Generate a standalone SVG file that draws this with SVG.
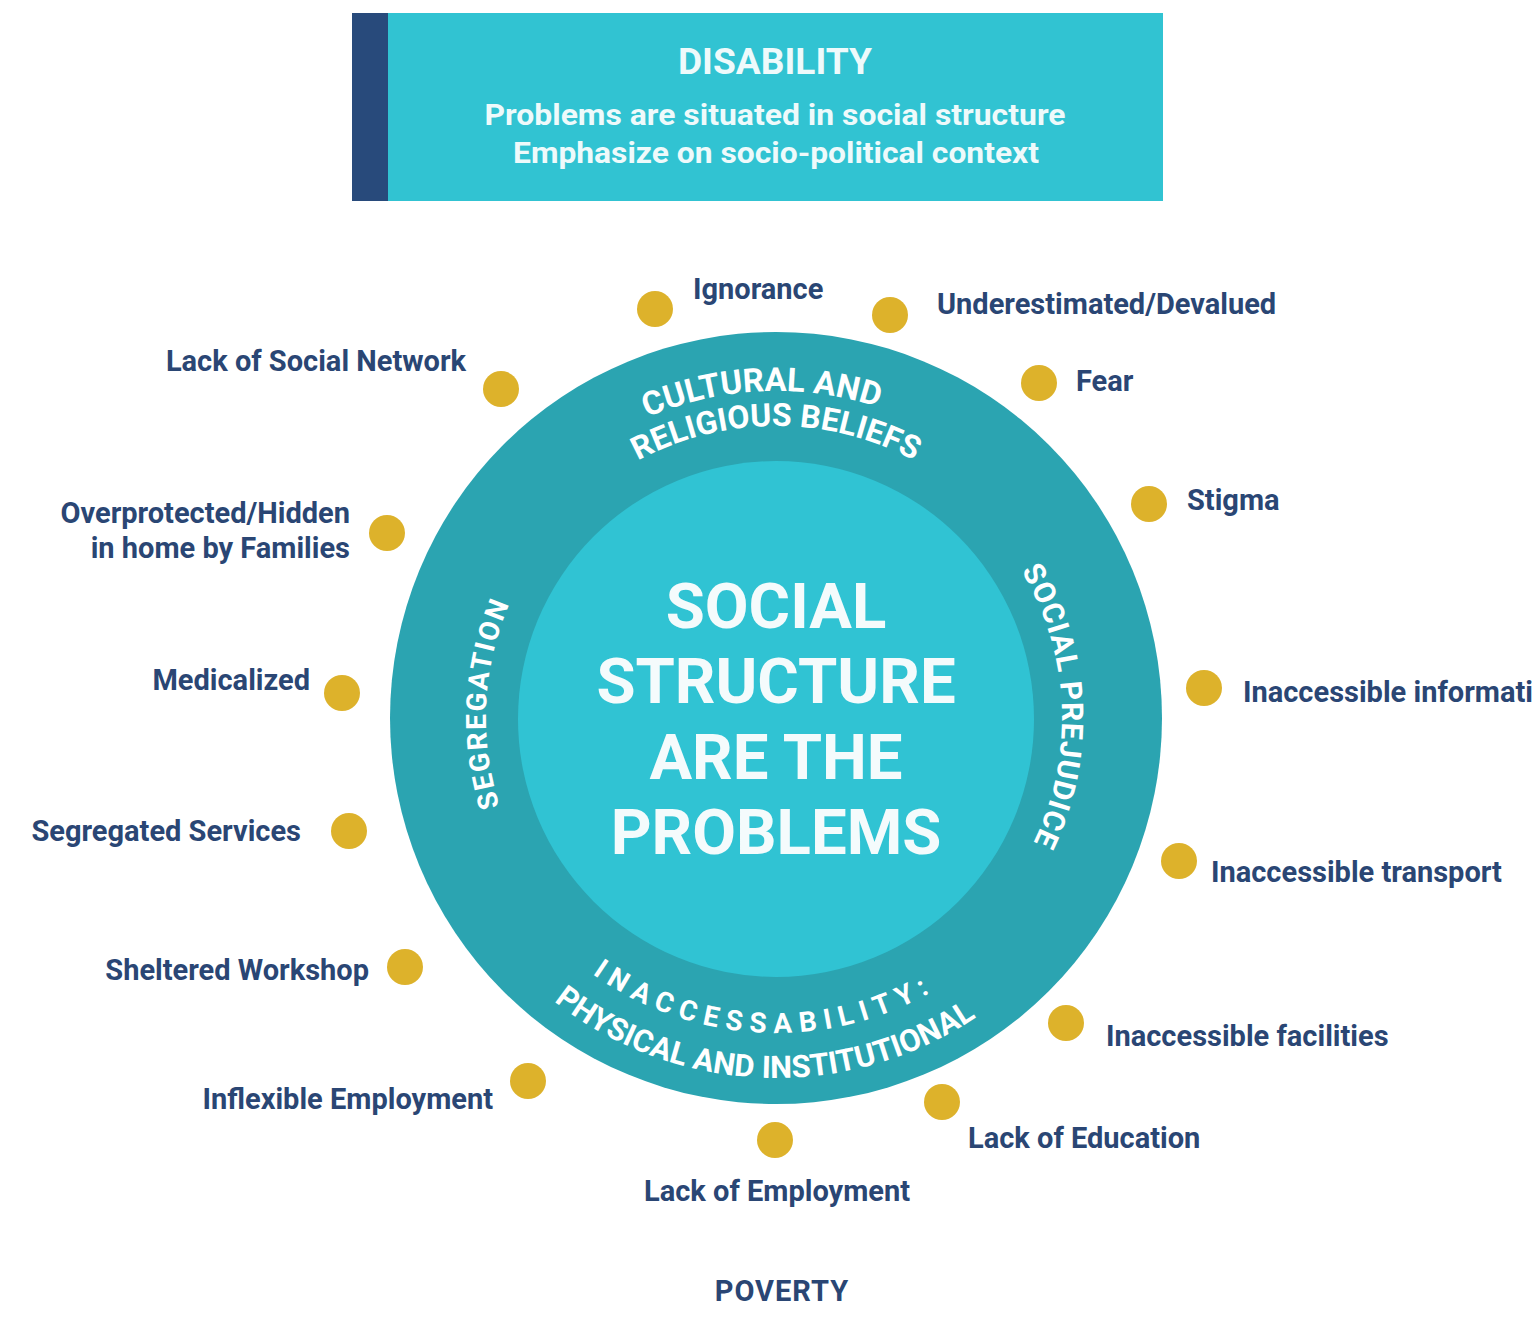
<svg xmlns="http://www.w3.org/2000/svg" xmlns:xlink="http://www.w3.org/1999/xlink" width="1535" height="1334" viewBox="0 0 1535 1334">
<style>
.lbl{font-family:Roboto,"Liberation Sans",sans-serif;font-weight:bold;font-size:29px;fill:#2a4674}
.dot{fill:#ddb22b}
.ring{font-family:Roboto,"Liberation Sans",sans-serif;font-weight:bold;fill:#ffffff}
.ctr{font-family:Roboto,"Liberation Sans",sans-serif;font-weight:bold;font-size:63.5px;fill:#f4fbfc;text-anchor:middle}
.hdr{font-family:Roboto,"Liberation Sans",sans-serif;font-weight:bold;fill:#eefafb;text-anchor:middle}
</style>
<defs>
<path id="p327" d="M776,1045 A327,327 0 1 1 776,391 A327,327 0 1 1 776,1045"/>
<path id="p292" d="M776,1010 A292,292 0 1 1 776,426 A292,292 0 1 1 776,1010"/>
<path id="p286" d="M776,1004 A286,286 0 1 1 776,432 A286,286 0 1 1 776,1004"/>
<path id="p290" d="M776,1008 A290,290 0 1 1 776,428 A290,290 0 1 1 776,1008"/>
<path id="b315" d="M776,403 A315,315 0 1 0 776,1033 A315,315 0 1 0 776,403"/>
<path id="b360" d="M776,358 A360,360 0 1 0 776,1078 A360,360 0 1 0 776,358"/>
</defs>
<rect width="1535" height="1334" fill="#ffffff"/>
<g id="header">
<rect x="352" y="13" width="811" height="188" fill="#31c3d2"/>
<rect x="352" y="13" width="36" height="188" fill="#284a7b"/>
<text class="hdr" x="775" y="74" font-size="36" textLength="194" lengthAdjust="spacingAndGlyphs">DISABILITY</text>
<text class="hdr" x="775" y="125" font-size="30" textLength="581" lengthAdjust="spacingAndGlyphs">Problems are situated in social structure</text>
<text class="hdr" x="776" y="163" font-size="30" textLength="526" lengthAdjust="spacingAndGlyphs">Emphasize on socio-political context</text>
</g>
<g id="wheel">
<circle cx="776" cy="718" r="386" fill="#2ba4b1"/>
<circle cx="776" cy="719" r="258" fill="#30c3d3"/>
<text class="ring" font-size="33" text-anchor="middle"><textPath xlink:href="#p327" href="#p327" startOffset="49.3%">CULTURAL AND</textPath></text>
<text class="ring" font-size="32" text-anchor="middle"><textPath xlink:href="#p292" href="#p292" startOffset="50%">RELIGIOUS BELIEFS</textPath></text>
<text class="ring" font-size="30" text-anchor="middle" letter-spacing="1"><textPath xlink:href="#p286" href="#p286" startOffset="74.3%">SOCIAL PREJUDICE</textPath></text>
<text class="ring" font-size="28" text-anchor="middle" letter-spacing="2"><textPath xlink:href="#p290" href="#p290" startOffset="25.8%">SEGREGATION</textPath></text>
<text class="ring" font-size="28" text-anchor="middle" letter-spacing="7.5"><textPath xlink:href="#b315" href="#b315" startOffset="49.3%">INACCESSABILITY:</textPath></text>
<text class="ring" font-size="31" text-anchor="middle"><textPath xlink:href="#b360" href="#b360" startOffset="49.4%">PHYSICAL AND INSTITUTIONAL</textPath></text>
<text class="ctr" x="776" y="628">SOCIAL</text>
<text class="ctr" x="776" y="703">STRUCTURE</text>
<text class="ctr" x="776" y="779">ARE THE</text>
<text class="ctr" x="776" y="854">PROBLEMS</text>
</g>
<g id="connectors"></g>
<g id="n-ignorance"><circle class="dot" cx="655" cy="309" r="18"/><text class="lbl" x="693" y="299">Ignorance</text></g>
<g id="n-underestimated"><circle class="dot" cx="890" cy="315" r="18"/><text class="lbl" x="937" y="314">Underestimated/Devalued</text></g>
<g id="n-fear"><circle class="dot" cx="1039" cy="383" r="18"/><text class="lbl" x="1076" y="391">Fear</text></g>
<g id="n-stigma"><circle class="dot" cx="1149" cy="504" r="18"/><text class="lbl" x="1187" y="510">Stigma</text></g>
<g id="n-info"><circle class="dot" cx="1204" cy="688" r="18"/><text class="lbl" x="1243" y="702">Inaccessible informati</text></g>
<g id="n-transport"><circle class="dot" cx="1179" cy="861" r="18"/><text class="lbl" x="1211" y="882">Inaccessible transport</text></g>
<g id="n-facilities"><circle class="dot" cx="1066" cy="1023" r="18"/><text class="lbl" x="1106" y="1046">Inaccessible facilities</text></g>
<g id="n-education"><circle class="dot" cx="942" cy="1102" r="18"/><text class="lbl" x="968" y="1148">Lack of Education</text></g>
<g id="n-employment"><circle class="dot" cx="775" cy="1140" r="18"/><text class="lbl" x="777" y="1201" text-anchor="middle">Lack of Employment</text></g>
<g id="n-inflexible"><circle class="dot" cx="528" cy="1081" r="18"/><text class="lbl" x="493" y="1109" text-anchor="end">Inflexible Employment</text></g>
<g id="n-sheltered"><circle class="dot" cx="405" cy="967" r="18"/><text class="lbl" x="369" y="980" text-anchor="end">Sheltered Workshop</text></g>
<g id="n-segregated"><circle class="dot" cx="349" cy="831" r="18"/><text class="lbl" x="301" y="841" text-anchor="end">Segregated Services</text></g>
<g id="n-medicalized"><circle class="dot" cx="342" cy="693" r="18"/><text class="lbl" x="310" y="690" text-anchor="end">Medicalized</text></g>
<g id="n-overprotected"><circle class="dot" cx="387" cy="533" r="18"/><text class="lbl" x="350" y="523" text-anchor="end">Overprotected/Hidden</text><text class="lbl" x="350" y="558" text-anchor="end">in home by Families</text></g>
<g id="n-network"><circle class="dot" cx="501" cy="389" r="18"/><text class="lbl" x="466" y="371" text-anchor="end">Lack of Social Network</text></g>
<g id="n-poverty"><text class="lbl" x="782" y="1301" text-anchor="middle" font-size="31" letter-spacing="1">POVERTY</text></g>
</svg>
